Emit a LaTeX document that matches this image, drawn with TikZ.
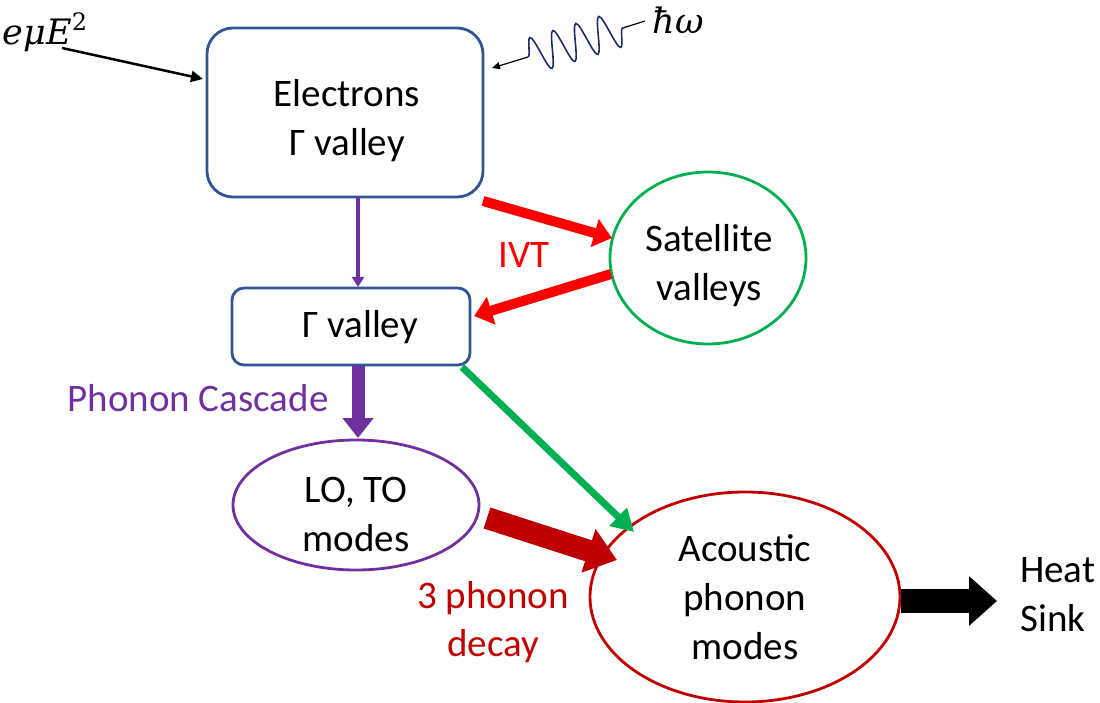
\documentclass[tikz,border=0pt]{standalone}
\usepackage{fontspec}
\setmainfont{Carlito}
\newfontfamily\mathlike{DejaVu Serif}
\usetikzlibrary{arrows.meta,decorations.pathmorphing,shapes.geometric}
\definecolor{cblue}{HTML}{2F5597}
\definecolor{cnavy}{HTML}{1F2A6B}
\definecolor{cgreen}{HTML}{00B050}
\definecolor{cred}{HTML}{FF0000}
\definecolor{cdred}{HTML}{C00000}
\definecolor{cpurple}{HTML}{7030A0}
\begin{document}
\begin{tikzpicture}[x=1pt,y=-1pt,
  txt/.style={font=\fontsize{39}{49}\selectfont,align=center,inner sep=0pt},
  rbox/.style={draw=cblue,line width=2.8pt,rounded corners=#1},
  ell/.style={ellipse,draw=#1,line width=2.8pt,inner sep=0pt},
  lbl/.style={font=\fontsize{39}{48}\selectfont,text=#1,inner sep=0pt,align=center},
  mathlbl/.style={inner sep=0pt,font=\mathlike\fontsize{35}{40}\selectfont}
]
\useasboundingbox (0,0) rectangle (1100,703);
% nodes
\draw[rbox=26pt] (207,28) rectangle (483,197);
\node[minimum width=276pt,minimum height=169pt,inner sep=0pt] (el) at (345,112) {};
\node[txt] at (347,121) {Electrons\\Γ valley};
\draw[rbox=12pt] (232,288) rectangle (470,365);
\node[minimum width=238pt,minimum height=77pt,inner sep=0pt] (gv) at (351,326.5) {};
\node[txt] at (360,327) {Γ valley};
\node[ell=cgreen,minimum width=196pt,minimum height=172pt] (sat) at (708,258) {};
\node[txt] at (709,266) {Satellite\\valleys};
\node[ell=cpurple,minimum width=246pt,minimum height=130pt] (lo) at (356,505) {};
\node[txt] at (356,514) {LO, TO\\modes};
\node[ell=cdred,minimum width=310pt,minimum height=210pt,txt] (ac) at (745,597) {Acoustic\\phonon\\modes};
\node[txt,align=left,anchor=west] (hs) at (1020,595) {Heat\\Sink};
\node[mathlbl] (emu) at (45,32) {\itshape eμE\raisebox{14pt}{\upshape\fontsize{24}{28}\selectfont 2}};
\node[mathlbl] (hw) at (678,20) {\itshape ħω};
% labels
\node[lbl=cred] at (524,255) {IVT};
\node[lbl=cpurple] at (198,398) {Phonon Cascade};
\node[lbl=cdred] at (493,622) {3 phonon\\decay};
% connectors
\coordinate (e1) at (62,48);
\draw[line width=2.5pt,-{Triangle[length=12pt,width=11pt]}] (e1) -- (203,79);
\coordinate (w0) at (528,57);
\coordinate (w1) at (626,27);
\draw[line width=1.2pt,-{Triangle[length=8pt,width=7pt]}] (w0) -- (492,68);
\draw[cnavy,line width=1.6pt,decorate,decoration={snake,segment length=24pt,amplitude=18pt}] (w0) -- (w1);
\draw[line width=1.2pt] (w1) -- (645,21);
\draw[cpurple,line width=4pt,-{Triangle[length=10pt,width=12pt]}] (358,197) -- (358,287);
\draw[cred,line width=10pt,-{Triangle[length=18pt,width=28pt]}] (483,201) -- (612,238);
\draw[cred,line width=10pt,-{Triangle[length=18pt,width=28pt]}] (611,274) -- (474,316);
\draw[cpurple,line width=13pt,-{Triangle[length=20pt,width=30pt]}] (358,366) -- (358,438);
\draw[cgreen,line width=7pt,-{Triangle[length=22pt,width=24pt]}] (462,367) -- (634,532);
\draw[cdred,line width=22pt,-{Triangle[length=30pt,width=44pt]}] (487,518) -- (617,560);
\draw[black,line width=24pt,-{Triangle[length=28pt,width=48pt]}] (901,601) -- (997,601);
\end{tikzpicture}
\end{document}
